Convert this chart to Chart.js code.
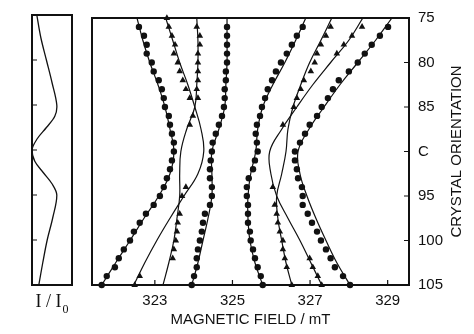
<!DOCTYPE html>
<html>
<head>
<meta charset="utf-8">
<script src="https://cdn.jsdelivr.net/npm/chart.js@4.4.1/dist/chart.umd.min.js"></script>
<style>
  body { margin: 0; background: #fff; }
  #wrap { position: relative; width: 474px; height: 334px; }
  canvas { position: absolute; left: 0; top: 0; }
</style>
</head>
<body>
<div id="wrap">
  <canvas id="side" width="92" height="334"></canvas>
  <canvas id="main" width="474" height="334"></canvas>
</div>
<script>
// tick values / labels
const xTickValues = [323, 325, 327, 329];
const yTickValues = [75, 80, 85, 90, 95, 100, 105];
const yTickLabels = ['75', '80', '85', 'C', '95', '100', '105'];

// theory curves (field in mT) sampled every 2.5 deg
const lineDeg = [75, 77.5, 80, 82.5, 85, 87.5, 90, 92.5, 95, 97.5, 100, 102.5, 105];
const lineA  = [322.54, 322.69, 322.87, 323.08, 323.26, 323.39, 323.49, 323.39, 323.10, 322.72, 322.36, 321.99, 321.63];
const lineT1 = [323.28, 323.46, 323.64, 323.85, 324.03, 324.19, 324.26, 324.11, 323.75, 323.39, 323.05, 322.74, 322.46];
const lineT2 = [324.08, 324.11, 324.11, 324.08, 324.03, 323.82, 323.67, 323.64, 323.64, 323.57, 323.49, 323.36, 323.21];
const lineD  = [324.86, 324.86, 324.86, 324.83, 324.80, 324.65, 324.47, 324.47, 324.47, 324.37, 324.24, 324.11, 323.95];
const lineE  = [326.89, 326.63, 326.35, 326.04, 325.78, 325.65, 325.60, 325.47, 325.40, 325.40, 325.45, 325.58, 325.78];
const lineT3 = [327.56, 327.28, 326.99, 326.76, 326.56, 326.43, 326.38, 326.27, 326.14, 326.17, 326.27, 326.38, 326.53];
const lineT4 = [328.36, 328.00, 327.53, 327.07, 326.66, 326.27, 325.96, 325.99, 326.14, 326.43, 326.74, 327.02, 327.30];
const lineH  = [329.11, 328.69, 328.23, 327.77, 327.36, 326.97, 326.69, 326.74, 326.92, 327.15, 327.41, 327.69, 328.03];

// measured points, one per degree 75..105 (null = no point)
const markDeg = [75, 76, 77, 78, 79, 80, 81, 82, 83, 84, 85, 86, 87, 88, 89, 90,
                 91, 92, 93, 94, 95, 96, 97, 98, 99, 100, 101, 102, 103, 104, 105];
const dotsA = [null, 322.59, 322.72, 322.79, 322.79, 322.92, 322.97, 323.10, 323.18, 323.23, 323.26,
  323.36, 323.39, 323.44, 323.49, 323.49, 323.44, 323.39, 323.31, 323.23, 323.13,
  322.97, 322.77, 322.61, 322.46, 322.36, 322.20, 322.07, 321.97, 321.76, 321.63];
const triT1 = [323.31, 323.36, 323.44, 323.52, 323.49, 323.59, 323.64, 323.72, 323.80, 323.90,
  null, null, null, null, null, null, null, null, null, 323.80,
  null, null, null, null, null, null, null, null, null, 322.61, 322.48];
const triT2 = [null, 324.08, 324.16, 324.16, 324.11, 324.11, 324.11, 324.11, 324.08, 324.11, null,
  323.98, 323.90, null, null, null, null, null, null, null, 323.70,
  null, 323.64, 323.59, 323.57, 323.54, 323.49, 323.46, null, null, null];
const dotsD = [null, 324.86, 324.86, 324.86, 324.86, 324.86, 324.83, 324.83, 324.80, 324.80, 324.78,
  324.73, 324.65, 324.57, 324.49, 324.47, 324.44, 324.42, 324.42, 324.47, 324.47,
  324.42, 324.29, 324.24, 324.21, 324.16, 324.11, 324.08, 324.08, 324.01, 323.95];
const dotsE = [null, 326.81, 326.66, 326.53, 326.40, 326.25, 326.12, 326.02, 325.91, 325.84, 325.76,
  325.71, 325.63, 325.60, 325.63, 325.65, 325.58, 325.53, 325.42, 325.37, 325.37,
  325.40, 325.40, 325.40, 325.45, 325.47, 325.53, 325.58, 325.65, 325.73, 325.78];
const triT3 = [null, 327.53, 327.41, 327.28, 327.18, 327.12, 327.02, 326.84, 326.76, 326.66, 326.58,
  null, null, null, null, null, null, null, null, 326.04, null,
  326.09, 326.14, 326.17, 326.22, 326.30, 326.30, 326.35, 326.40, null, 326.53];
const triT4 = [null, 328.34, 328.08, 327.87, 327.69, null, null, null, null, null, null,
  null, 326.30, null, null, null, null, null, null, null, null,
  null, null, null, null, null, null, 326.99, 327.07, 327.20, 327.30];
const dotsH = [null, 329.01, 328.80, 328.59, 328.41, 328.23, 328.00, 327.74, 327.59, 327.46, 327.30,
  327.18, 326.99, 326.87, 326.74, 326.61, 326.61, 326.66, 326.69, 326.79, 326.81,
  326.81, 326.94, 327.05, 327.18, 327.28, 327.41, 327.53, 327.64, 327.85, 328.03];

// relative intensity I/I0 (left panel)
const intDeg = [75, 77.5, 80, 82.5, 85, 86.25, 87.5, 88.75, 90, 91.25, 92.5, 93.75, 95, 97.5, 100, 102.5, 105];
const intVal = [0.12, 0.22, 0.36, 0.50, 0.62, 0.57, 0.36, 0.13, 0, 0.07, 0.28, 0.50, 0.62, 0.52, 0.38, 0.27, 0.17];

const ink = '#111';
const sans = "'Liberation Sans', Arial, sans-serif";
Chart.defaults.font.family = sans;
Chart.defaults.color = ink;

function theory(field) {
    return {
        data: lineDeg.map((d, i) => ({x: field[i], y: d})),
        showLine: true,
        borderColor: ink,
        borderWidth: 1.2,
        pointRadius: 0,
        tension: 0.4,
    };
}

function measured(field, style) {
    const pts = [];
    markDeg.forEach((d, i) => {
        if (field[i] !== null) pts.push({x: field[i], y: d});
    });
    return {
        data: pts,
        showLine: false,
        pointStyle: style,
        pointRadius: style === 'triangle' ? 3.8 : 3.2,
        backgroundColor: ink,
        borderColor: ink,
        borderWidth: 0,
        clip: 5,
    };
}

const frame = {
    id: 'frame',
    afterDraw(chart, args, opts) {
        const {ctx, chartArea: a, scales} = chart;
        ctx.save();
        ctx.strokeStyle = ink;
        ctx.lineWidth = 2;
        ctx.strokeRect(a.left, a.top, a.right - a.left, a.bottom - a.top);
        ctx.lineWidth = 1.2;
        ctx.beginPath();
        if (opts.xTicks) {
            opts.xTicks.forEach(v => {
                const px = scales.x.getPixelForValue(v);
                ctx.moveTo(px, a.bottom);
                ctx.lineTo(px, a.bottom - 5);
            });
        }
        opts.yTicks.forEach(v => {
            const py = scales.y.getPixelForValue(v);
            if (opts.yOnLeft) {
                ctx.moveTo(a.left, py);
                ctx.lineTo(a.left + 5, py);
            } else {
                ctx.moveTo(a.right, py);
                ctx.lineTo(a.right - 5, py);
            }
        });
        ctx.stroke();
        ctx.fillStyle = ink;
        if (opts.yTitle) {
            ctx.translate(457, (a.top + a.bottom) / 2);
            ctx.rotate(-Math.PI / 2);
            ctx.font = '15px ' + sans;
            ctx.textAlign = 'center';
            ctx.textBaseline = 'middle';
            ctx.fillText(opts.yTitle, 0, 0);
        }
        if (opts.ratio) {
            const cx = (a.left + a.right) / 2;
            ctx.font = '18px "Liberation Serif", "Times New Roman", serif';
            ctx.textBaseline = 'alphabetic';
            ctx.textAlign = 'left';
            const w = ctx.measureText(opts.ratio).width;
            ctx.font = '12px "Liberation Serif", "Times New Roman", serif';
            const w0 = ctx.measureText('0').width;
            const x0 = cx - (w + w0 + 1) / 2;
            ctx.font = '18px "Liberation Serif", "Times New Roman", serif';
            ctx.fillText(opts.ratio, x0, 307);
            ctx.font = '12px "Liberation Serif", "Times New Roman", serif';
            ctx.fillText('0', x0 + w + 1, 313);
        }
        ctx.restore();
    }
};

new Chart(document.getElementById('main'), {
    type: 'scatter',
    data: {
        datasets: [
            theory(lineA), theory(lineT1), theory(lineT2), theory(lineD),
            theory(lineE), theory(lineT3), theory(lineT4), theory(lineH),
            measured(dotsA, 'circle'), measured(triT1, 'triangle'), measured(triT2, 'triangle'),
            measured(dotsD, 'circle'), measured(dotsE, 'circle'), measured(triT3, 'triangle'),
            measured(triT4, 'triangle'), measured(dotsH, 'circle'),
        ]
    },
    options: {
        responsive: false,
        animation: false,
        devicePixelRatio: 1,
        layout: {padding: {left: 92, top: 15, right: 0, bottom: 0}},
        plugins: {
            legend: {display: false},
            tooltip: {enabled: false},
            frame: {xTicks: xTickValues, yTicks: yTickValues.slice(1, -1), yTitle: 'CRYSTAL ORIENTATION'},
        },
        scales: {
            x: {
                type: 'linear',
                position: 'bottom',
                min: 321.38,
                max: 329.55,
                grid: {display: false, drawTicks: false},
                border: {display: false},
                afterBuildTicks: s => { s.ticks = xTickValues.map(v => ({value: v})); },
                afterFit: s => { s.height = 49; },
                ticks: {padding: 7, font: {size: 15}, color: ink, maxRotation: 0, autoSkip: false},
                title: {display: true, text: 'MAGNETIC FIELD / mT', font: {size: 15}, color: ink,
                        padding: {top: 0, bottom: 5}},
            },
            y: {
                type: 'linear',
                position: 'right',
                reverse: true,
                min: 75,
                max: 105,
                grid: {display: false, drawTicks: false},
                border: {display: false},
                afterBuildTicks: s => { s.ticks = yTickValues.map(v => ({value: v})); },
                afterFit: s => { s.width = 65; },
                ticks: {
                    padding: 9,
                    font: {size: 15},
                    color: ink,
                    autoSkip: false,
                    callback: v => yTickLabels[yTickValues.indexOf(v)],
                },
            },
        },
    },
    plugins: [frame],
});

new Chart(document.getElementById('side'), {
    type: 'scatter',
    data: {
        datasets: [{
            data: intDeg.map((d, i) => ({x: intVal[i], y: d})),
            showLine: true,
            borderColor: ink,
            borderWidth: 1.3,
            pointRadius: 0,
            tension: 0.35,
        }]
    },
    options: {
        responsive: false,
        animation: false,
        devicePixelRatio: 1,
        layout: {padding: {left: 32, top: 15, right: 20, bottom: 49}},
        plugins: {
            legend: {display: false},
            tooltip: {enabled: false},
            frame: {yTicks: yTickValues.slice(1, -1), yOnLeft: true, ratio: 'I / I'},
        },
        scales: {
            x: {type: 'linear', min: 0, max: 1, display: false},
            y: {type: 'linear', min: 75, max: 105, reverse: true, display: false},
        },
    },
    plugins: [frame],
});
</script>
</body>
</html>
